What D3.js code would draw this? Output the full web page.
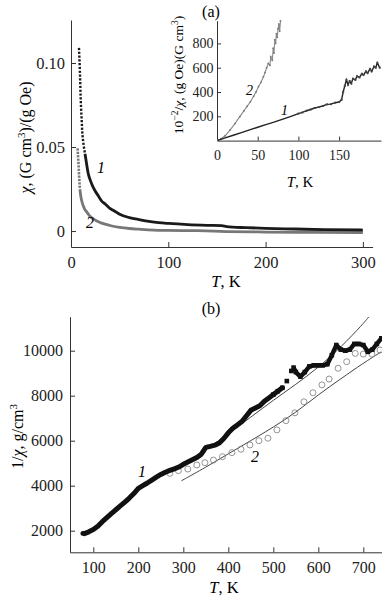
<!DOCTYPE html>
<html><head><meta charset="utf-8">
<script src="https://cdn.jsdelivr.net/npm/d3@7"></script>
<style>
html,body{margin:0;padding:0;background:#fff;}
svg{display:block;font-family:"Liberation Serif","Times New Roman",serif;}
</style></head>
<body>
<svg id="c" width="382" height="596"></svg>
<script>
// ---- Panel (a): chi vs T ----
const aT1 = [8.2,8.7,9.2,9.7,10.3,11,11.7,13,14.4,16,17.8,20,22,24.7,28,32,35,40,45,50,60,70,80,90,100,120,140,155,160,180,200,230,260,300];
const aChi1 = [0.109,0.102,0.094,0.084,0.074,0.066,0.058,0.051,0.046,0.040,0.034,0.030,0.027,0.024,0.021,0.0175,0.0162,0.0135,0.0118,0.0100,0.0080,0.0068,0.0058,0.0050,0.0045,0.0038,0.0034,0.0032,0.0026,0.0020,0.0016,0.0012,0.0008,0.0006];
const aT2 = [6.8,7.3,7.8,8.2,8.7,9.2,10,11,12.6,14,16,19.5,23,27,31.5,40,50,60,70,85,100,130,160,200,250,300];
const aChi2 = [0.0492,0.044,0.039,0.0343,0.029,0.0244,0.021,0.018,0.0150,0.0130,0.0115,0.0088,0.0072,0.0058,0.0047,0.0033,0.0022,0.0015,0.0011,0.0006,0.0004,0.0002,-0.0003,-0.0006,-0.0008,-0.0010];
const aXTicks = [0,100,200,300];
const aYTicks = [0,0.05,0.10];
const aYTickLabels = ["0","0.05","0.10"];

// ---- Inset: 10^-2/chi vs T ----
const iT1 = [1,10,20,30,40,50,60,70,80,90,100,105,110,115,120,125,130,135,140,145,150,153,155,157,159,161,163,165,167,170,172,175,178,180,183,185,188,190,193,195,197,200];
const iV1 = [2,22,44,66,88,110,132,152,175,197,222,232,246,256,268,276,285,298,300,312,318,335,400,450,500,460,490,470,510,500,530,520,550,540,570,555,590,570,610,600,640,600];
const iT2 = [1,5,10,16,22,28,33,37,41,45,48,51,54,57,59,61,63,65,66,68,69,70,71,72,73,74,75,76,77,78];
const iV2 = [3,15,40,87,140,197,245,282,320,365,400,445,480,525,560,600,635,620,690,660,760,720,830,800,880,850,920,960,900,985];
const iXTicks = [0,50,100,150];
const iYTicks = [200,400,600,800];

// ---- Panel (b): 1/chi vs T ----
const bT1 = [77,80,90,100,110,120,130,140,150,160,170,180,190,200,210,220,230,240,250,260,270,280,290,300,310,320,330,340,350,360,370,380,390,400,410,420,430,440,450,460,470,480,490,500,510,520,530,540,545,550,560,570,580,590,600,610,620,630,640,650,660,670,680,690,700,710,720,730,740];
const bV1 = [1880,1870,1950,2050,2200,2400,2580,2760,2930,3100,3270,3450,3650,3880,4000,4120,4250,4380,4500,4600,4680,4750,4830,4950,5050,5150,5250,5400,5700,5750,5800,5900,6100,6350,6550,6700,6850,7100,7350,7450,7550,7750,7900,8050,8200,8350,8650,9100,9250,9050,8850,9050,9300,9350,9350,9350,9400,9800,10250,10050,10000,10050,10300,10300,10250,9950,10050,10300,10550];
const bT2 = [270,289,310,330,348,367,387,408,428,448,468,488,508,528,548,568,588,608,624,644,663,682,700,719,737];
const bV2 = [4550,4670,4740,4920,5020,5140,5290,5470,5620,5810,6000,6110,6480,6890,7240,7730,8130,8480,8740,9220,9510,9880,9850,9850,10030];
const bFitT1 = [200,250,300,350,400,450,500,550,600,650,700,712];
const bFitV1 = [3900,4420,4950,5600,6300,7050,7800,8500,9250,10150,11200,11500];
const bFitT2 = [296,350,400,450,500,550,600,650,700,740];
const bFitV2 = [4220,4820,5420,6000,6600,7250,8050,8750,9450,9950];
const bXTicks = [100,200,300,400,500,600,700];
const bYTicks = [2000,4000,6000,8000,10000];

const svg = d3.select("#c");
const axisColor = "#333";

function styleAxis(g, fs){
  g.select(".domain").attr("stroke", axisColor).attr("stroke-width", 1);
  g.selectAll(".tick line").attr("stroke", axisColor).attr("stroke-width", 1);
  g.selectAll(".tick text").attr("fill", "#222").style("font-size", fs + "px")
    .style("font-family", '"Liberation Serif","Times New Roman",serif');
}
const zip = (a,b) => a.map((v,i)=>[v,b[i]]);

// ===== Panel (a) =====
const ax = d3.scaleLinear().domain([0, 310]).range([71, 372.6]);
const ay = d3.scaleLinear().domain([-0.0095, 0.1256]).range([247, 20]);

svg.append("g").attr("transform","translate(0,247)")
  .call(d3.axisBottom(ax).tickValues(aXTicks).tickFormat(d3.format("d")).tickSizeInner(-5).tickSizeOuter(0).tickPadding(9))
  .call(g=>styleAxis(g,16.5));
svg.append("g").attr("transform","translate(71,0)")
  .call(d3.axisLeft(ay).tickValues(aYTicks).tickFormat((d,i)=>aYTickLabels[i]).tickSizeInner(-5).tickSizeOuter(0).tickPadding(6))
  .call(g=>styleAxis(g,16.5));

const aLine = d3.line().x(d=>ax(d[0])).y(d=>ay(d[1])).curve(d3.curveMonotoneX);
const aLineY = d3.line().x(d=>ax(d[0])).y(d=>ay(d[1])).curve(d3.curveMonotoneY);
const a1 = zip(aT1,aChi1), a2 = zip(aT2,aChi2);

// curve 2 (gray)
svg.append("path").datum(a2.filter(d=>d[0]<=9.2)).attr("d",aLineY).attr("fill","none")
  .attr("stroke","#777").attr("stroke-width",2.6).attr("stroke-dasharray","2.2,1.2");
svg.append("path").datum(a2.filter(d=>d[0]>=9.2)).attr("d",aLine).attr("fill","none")
  .attr("stroke","#777").attr("stroke-width",2.8);
// curve 1 (black)
svg.append("path").datum(a1.filter(d=>d[0]<=14.4)).attr("d",aLineY).attr("fill","none")
  .attr("stroke","#1a1a1a").attr("stroke-width",2.4).attr("stroke-dasharray","2.2,1.6");
svg.append("path").datum(a1.filter(d=>d[0]>=14.4)).attr("d",aLine).attr("fill","none")
  .attr("stroke","#1a1a1a").attr("stroke-width",2.8);

svg.append("text").attr("x",97).attr("y",173).style("font-size","16px").style("font-style","italic").text("1");
svg.append("text").attr("x",86).attr("y",228).style("font-size","16px").style("font-style","italic").text("2");

// axis titles (a)
const tA = svg.append("text").attr("x",226).attr("y",286.5).attr("text-anchor","middle").style("font-size","16.5px");
tA.append("tspan").style("font-style","italic").text("T");
tA.append("tspan").text(", K");

const yA = svg.append("text").attr("transform","translate(31,137.5) rotate(-90)").attr("text-anchor","middle").style("font-size","16px");
yA.append("tspan").style("font-style","italic").text("χ");
yA.append("tspan").text(", (G cm");
yA.append("tspan").attr("dy",-6).style("font-size","11px").text("3");
yA.append("tspan").attr("dy",6).text(")/(g Oe)");

svg.append("text").attr("x",211).attr("y",16.5).attr("text-anchor","middle").style("font-size","16px").text("(a)");

// ===== Inset =====
const ix = d3.scaleLinear().domain([0, 201.5]).range([217, 381]);
const iy = d3.scaleLinear().domain([0, 987]).range([140.6, 20.7]);
svg.append("g").attr("transform","translate(0,140.6)")
  .call(d3.axisBottom(ix).tickValues(iXTicks).tickFormat(d3.format("d")).tickSizeInner(-4).tickSizeOuter(0).tickPadding(9))
  .call(g=>styleAxis(g,14));
svg.append("g").attr("transform","translate(217,0)")
  .call(d3.axisLeft(iy).tickValues(iYTicks).tickFormat(d3.format("d")).tickSizeInner(-4).tickSizeOuter(0).tickPadding(3.5))
  .call(g=>styleAxis(g,14));
const iLine = d3.line().x(d=>ix(d[0])).y(d=>iy(d[1]));
svg.append("path").datum(zip(iT2,iV2)).attr("d",iLine).attr("fill","none").attr("stroke","#8a8a8a").attr("stroke-width",1.1);
svg.append("g").selectAll("rect").data(zip(iT2,iV2)).join("rect")
  .attr("x",d=>ix(d[0])-0.8).attr("y",d=>iy(d[1])-0.8).attr("width",1.6).attr("height",1.6).attr("fill","#777");
svg.append("path").datum(zip(iT1,iV1)).attr("d",iLine).attr("fill","none").attr("stroke","#222").attr("stroke-width",1.4);
svg.append("g").selectAll("rect").data(zip(iT1,iV1).filter(d=>d[0]>=100)).join("rect")
  .attr("x",d=>ix(d[0])-1).attr("y",d=>iy(d[1])-1).attr("width",2).attr("height",2).attr("fill","#444");

svg.append("text").attr("x",246).attr("y",95).style("font-size","14px").style("font-style","italic").text("2");
svg.append("text").attr("x",281).attr("y",115).style("font-size","14px").style("font-style","italic").text("1");

const tI = svg.append("text").attr("x",300).attr("y",187).attr("text-anchor","middle").style("font-size","15px");
tI.append("tspan").style("font-style","italic").text("T");
tI.append("tspan").text(", K");

const yI = svg.append("text").attr("transform","translate(182.5,75) rotate(-90)").attr("text-anchor","middle").style("font-size","13.5px");
yI.append("tspan").text("10");
yI.append("tspan").attr("dy",-5).style("font-size","9.5px").text("−2");
yI.append("tspan").attr("dy",5).text("/");
yI.append("tspan").style("font-style","italic").text("χ");
yI.append("tspan").text(", (g Oe)(G cm");
yI.append("tspan").attr("dy",-5).style("font-size","9.5px").text("3");
yI.append("tspan").attr("dy",5).text(")");

// ===== Panel (b) =====
const bx = d3.scaleLinear().domain([48.2, 741.5]).range([70, 382]);
const by = d3.scaleLinear().domain([1040, 11511]).range([552.3, 316.7]);
svg.append("g").attr("transform","translate(0,552.3)")
  .call(d3.axisBottom(bx).tickValues(bXTicks).tickFormat(d3.format("d")).tickSizeInner(-5).tickSizeOuter(0).tickPadding(9))
  .call(g=>styleAxis(g,16));
svg.append("g").attr("transform","translate(70,0)")
  .call(d3.axisLeft(by).tickValues(bYTicks).tickFormat(d3.format("d")).tickSizeInner(-5).tickSizeOuter(0).tickPadding(7))
  .call(g=>styleAxis(g,16));

const bLine = d3.line().x(d=>bx(d[0])).y(d=>by(d[1]));
const bCurve = d3.line().x(d=>bx(d[0])).y(d=>by(d[1])).curve(d3.curveBasis);
// fit lines
svg.append("path").datum(zip(bFitT1,bFitV1)).attr("d",bCurve).attr("fill","none").attr("stroke","#444").attr("stroke-width",1);
svg.append("path").datum(zip(bFitT2,bFitV2)).attr("d",bCurve).attr("fill","none").attr("stroke","#444").attr("stroke-width",1);
// circles
svg.append("g").selectAll("circle").data(zip(bT2,bV2)).join("circle")
  .attr("cx",d=>bx(d[0])).attr("cy",d=>by(d[1])).attr("r",3)
  .attr("fill","none").attr("stroke","#888").attr("stroke-width",0.9);
// black data
const b1 = zip(bT1,bV1);
svg.append("path").datum(b1.filter(d=>d[0]<=520)).attr("d",bLine).attr("fill","none").attr("stroke","#111").attr("stroke-width",5).attr("stroke-linejoin","round").attr("stroke-linecap","round");
svg.append("path").datum(b1.filter(d=>d[0]>=545)).attr("d",bLine).attr("fill","none").attr("stroke","#111").attr("stroke-width",4.4).attr("stroke-linejoin","round");
svg.append("g").selectAll("rect").data(b1.filter(d=>d[0]>=500)).join("rect")
  .attr("x",d=>bx(d[0])-2.3).attr("y",d=>by(d[1])-2.3).attr("width",4.6).attr("height",4.6).attr("fill","#111");

svg.append("text").attr("x",138).attr("y",477).style("font-size","16px").style("font-style","italic").text("1");
svg.append("text").attr("x",251).attr("y",462).style("font-size","16px").style("font-style","italic").text("2");

const tB = svg.append("text").attr("x",224).attr("y",593).attr("text-anchor","middle").style("font-size","16.5px");
tB.append("tspan").style("font-style","italic").text("T");
tB.append("tspan").text(", K");

const yB = svg.append("text").attr("transform","translate(22.5,436.5) rotate(-90)").attr("text-anchor","middle").style("font-size","16px");
yB.append("tspan").text("1/");
yB.append("tspan").style("font-style","italic").text("χ");
yB.append("tspan").text(", g/cm");
yB.append("tspan").attr("dy",-6).style("font-size","11px").text("3");

svg.append("text").attr("x",211).attr("y",313.5).attr("text-anchor","middle").style("font-size","16px").text("(b)");
</script>
</body></html>
